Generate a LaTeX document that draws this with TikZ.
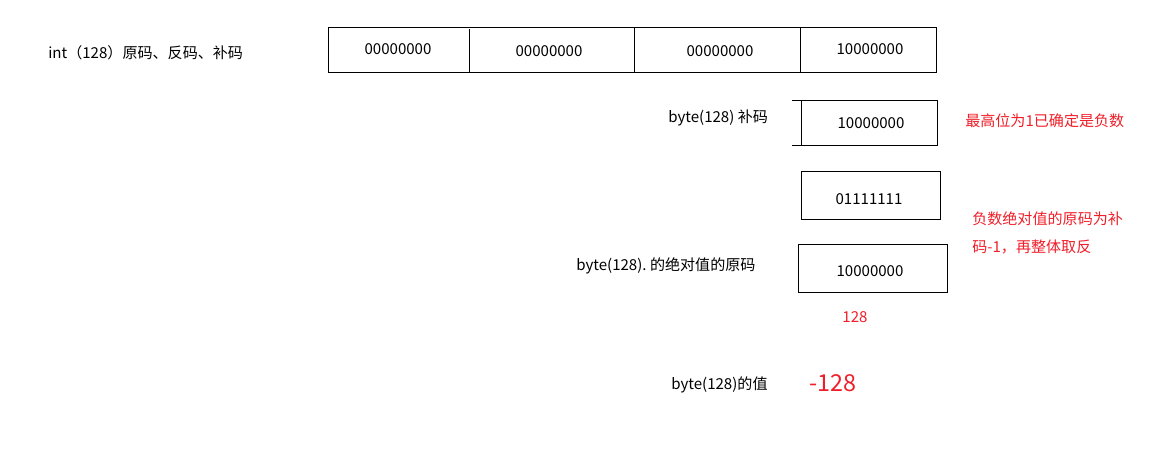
\documentclass[tikz,border=0pt]{standalone}
\usepackage{fontspec}
\setmainfont{Noto Sans CJK SC}
\begin{document}
\begin{tikzpicture}[x=0.75pt,y=-0.75pt,
  txt/.style={font=\fontsize{11.3}{13}\selectfont,inner sep=0pt},
  red/.style={txt,text={rgb,255:red,240;green,30;blue,40}},
  bx/.style={draw,line width=0.6pt}]
\useasboundingbox (0,0) rectangle (1162,464);
\node[txt,anchor=west] (t1) at (48,53) {int（128）原码、反码、补码};
\draw[bx] (328,27) rectangle (936,72);
\draw[line width=0.6pt] (469,29) -- (469,72) (634,27) -- (634,72) (800,27) -- (800,72);
\node[txt] (a1) at (398,49) {00000000};
\node[txt] (a2) at (549,51) {00000000};
\node[txt] (a3) at (720,51) {00000000};
\node[txt] (a4) at (870,49) {10000000};
\node[txt,anchor=west] (t2) at (668,118) {byte(128) 补码};
\draw[line width=0.6pt] (792,100) -- (937,100) -- (937,145) -- (792,145) (801,100) -- (801,145);
\node[txt] (b1) at (871,123) {10000000};
\node[red,anchor=west] (r1) at (965,121) {最高位为1已确定是负数};
\draw[bx] (801,171) rectangle (940,219);
\node[txt] (c1) at (869,199) {01111111};
\node[red,anchor=west] (r2) at (972,219) {负数绝对值的原码为补};
\node[red,anchor=west] (r3) at (972,247) {码-1，再整体取反};
\draw[bx] (798,244) rectangle (947,292);
\node[txt] (d1) at (870,271) {10000000};
\node[txt,anchor=west] (t3) at (576,266) {byte(128).\ 的绝对值的原码};
\node[red] (r4) at (855,317) {128};
\node[txt,anchor=west] (t4) at (671,385) {byte(128)的值};
\node[red,font=\fontsize{17.5}{19}\selectfont] (r5) at (833,383) {-128};
\end{tikzpicture}
\end{document}
